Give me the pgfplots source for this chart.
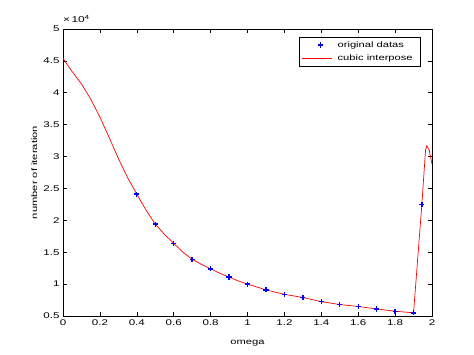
\documentclass[border=0pt]{standalone}
\usepackage{fontspec}
\setmainfont{Liberation Sans}[FakeStretch=1.4]
\usepackage{pgfplots}
\pgfplotsset{compat=1.18}
\pgfplotsset{
  legmark/.style={legend image code/.code={\draw[##1] plot coordinates {(20bp,0bp)};}},
  legline/.style={legend image code/.code={\draw[##1] (2bp,0bp) -- (32bp,0bp);}},
}
\begin{document}
\begin{tikzpicture}
\useasboundingbox (0,0) rectangle (474bp,355bp);
\begin{axis}[
  at={(63bp,39bp)}, anchor=south west,
  scale only axis, width=369bp, height=287bp,
  xmin=0, xmax=2, ymin=5000, ymax=50000,
  xtick={0,0.2,0.4,0.6,0.8,1,1.2,1.4,1.6,1.8,2},
  ytick={5000,10000,15000,20000,25000,30000,35000,40000,45000,50000},
  scaled y ticks=base 10:-4,
  ytick scale label code/.code={×\,10\textsuperscript{4}},
  every y tick scale label/.style={at={(rel axis cs:0,1)}, anchor=south west, inner sep=0pt, yshift=6bp, font=\fontsize{8.5}{9}\selectfont},
  y tick label style={/pgf/number format/fixed},
  /pgf/number format/assume math mode=true,
  tick align=inside,
  major tick length=4bp,
  tick style={black, line width=0.6pt},
  axis line style={line width=0.8pt},
  every tick label/.append style={font=\fontsize{8.3}{9}\selectfont},
  label style={font=\fontsize{8}{9}\selectfont},
  xlabel={omega},
  ylabel={number of iteration},
  xlabel style={at={(axis description cs:0.5,-0.094)}, anchor=center},
  ylabel style={at={(axis description cs:-0.078,0.5)}, anchor=center},
  legend style={at={(0.970,0.972)}, anchor=north east, font=\fontsize{8}{9}\selectfont, draw=black, line width=0.5pt, inner xsep=3bp, inner ysep=2bp, row sep=2bp, nodes={inner xsep=5bp}},
  legend cell align=left,
]
\addplot[only marks, mark=+, mark size=2.6bp, color=blue, mark options={line width=1.4pt}, legmark] coordinates {
(0.4,24100) (0.5,19400) (0.6,16400) (0.7,13900) (0.8,12400) (0.9,11100)
(1.0,10000) (1.1,9100) (1.2,8400) (1.3,7900) (1.4,7250) (1.5,6800)
(1.6,6500) (1.7,6100) (1.8,5750) (1.9,5500) (1.945,22500)
};
\addlegendentry{original datas}
\addplot[color=red, line width=0.7pt, legline] coordinates {
(0,45400) (0.05,43300) (0.1,41400) (0.15,39000) (0.2,36200) (0.25,33000)
(0.3,29700) (0.35,26700) (0.4,24100) (0.45,21600) (0.5,19400) (0.55,17800)
(0.6,16400) (0.65,15000) (0.7,13900) (0.75,13100) (0.8,12400) (0.85,11700)
(0.9,11100) (0.95,10500) (1.0,10000) (1.1,9100) (1.2,8400) (1.3,7900)
(1.4,7250) (1.5,6800) (1.6,6500) (1.7,6100) (1.8,5750) (1.9,5500)
(1.945,22500) (1.965,31000) (1.972,31700) (1.985,31000) (2.0,28800)
};
\addlegendentry{cubic interpose}
\end{axis}
\end{tikzpicture}
\end{document}
